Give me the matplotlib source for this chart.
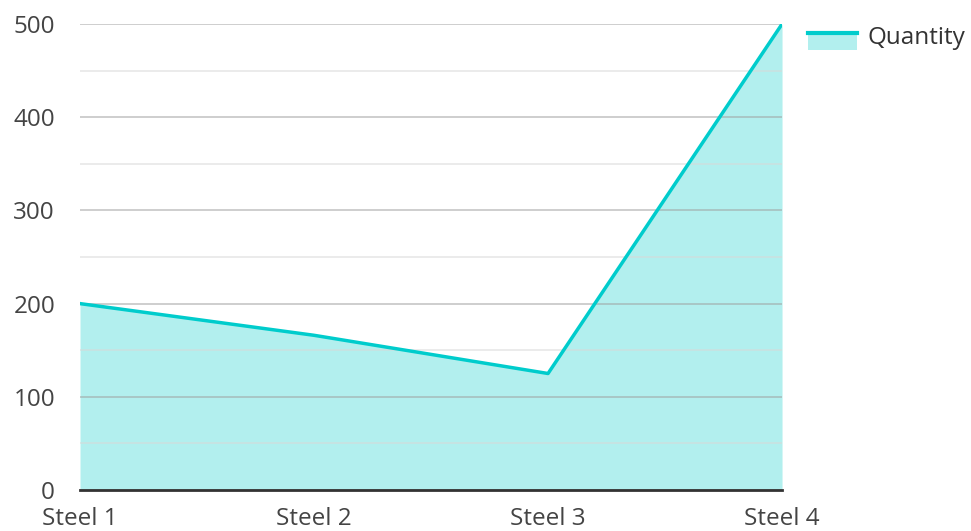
import matplotlib.pyplot as plt
from matplotlib.legend_handler import HandlerBase
from matplotlib.patches import Rectangle
from matplotlib.lines import Line2D
from matplotlib.ticker import MultipleLocator

plt.rcParams['font.family'] = ['Open Sans', 'DejaVu Sans']

categories = ['Steel 1', 'Steel 2', 'Steel 3', 'Steel 4']
quantity = [200, 166, 125, 500]

line_color = '#00cccc'
fill_color = '#b2efee'
text_color = '#444444'


class AreaHandler(HandlerBase):
    # filled box with the line sitting on its top edge
    def create_artists(self, legend, orig_handle, xdescent, ydescent,
                       width, height, fontsize, trans):
        shift = 0.2 * fontsize
        top = height * 0.85 - shift
        bottom = -ydescent - shift
        rect = Rectangle((-xdescent, bottom), width, top - bottom, facecolor=fill_color,
                         edgecolor='none', transform=trans)
        ln = Line2D([-xdescent, -xdescent + width], [top] * 2,
                    color=line_color, lw=3, transform=trans)
        return [rect, ln]


fig = plt.figure(figsize=(9.71, 5.31), dpi=100)
ax = fig.add_axes([0.0824, 0.0772, 0.723, 0.8776])

x = range(len(categories))
ax.fill_between(x, quantity, 0, color=fill_color, lw=0, zorder=1)
ax.plot(x, quantity, color=line_color, lw=2.5, zorder=3)

ax.set_xlim(0, len(categories) - 1)
ax.set_ylim(0, 500)
ax.set_xticks(list(x))
ax.set_xticklabels(categories)
ax.yaxis.set_major_locator(MultipleLocator(100))
ax.yaxis.set_minor_locator(MultipleLocator(50))

ax.grid(axis='y', which='major', color='#a0a0a0', lw=1.2, alpha=0.6, zorder=2)
ax.grid(axis='y', which='minor', color='#d8d8d8', lw=1.2, alpha=0.6, zorder=2)
ax.set_axisbelow(False)

for s in ['top', 'right', 'left']:
    ax.spines[s].set_visible(False)
ax.spines['bottom'].set_color('#333333')
ax.spines['bottom'].set_linewidth(2)
ax.spines['bottom'].set_zorder(4)

ax.tick_params(axis='both', which='both', length=0, labelsize=17.5, colors=text_color)
ax.tick_params(axis='y', pad=18)
ax.tick_params(axis='x', pad=12)

ax.legend([object()], ['Quantity'], handler_map={object: AreaHandler()},
          loc='upper left', bbox_to_anchor=(1.006, 1.043), frameon=False,
          fontsize=17.5, labelcolor='#333333', handlelength=2.0, handleheight=0.8,
          handletextpad=0.45)

fig.savefig('out.png', dpi=100)
